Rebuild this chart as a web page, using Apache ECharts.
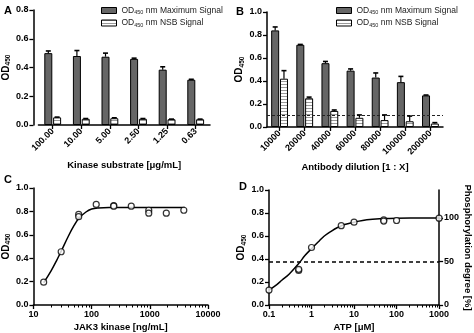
<!DOCTYPE html>
<html>
<head>
<meta charset="utf-8">
<script src="https://cdn.jsdelivr.net/npm/echarts@6/dist/echarts.min.js"></script>
<style>
  html, body { margin: 0; padding: 0; background: #fff; }
  #chart { width: 474px; height: 333px; }
</style>
</head>
<body>
<div id="chart"></div>
<script>
// ---- Panel A: kinase substrate titration ----
const substrateLabels = ['100.00', '10.00', '5.00', '2.50', '1.25', '0.63'];
const substrateMax    = [0.50, 0.48, 0.475, 0.46, 0.385, 0.315];
const substrateMaxErr = [0.015, 0.038, 0.025, 0.005, 0.02, 0.003];
const substrateNsb    = [0.053, 0.043, 0.047, 0.043, 0.04, 0.04];
const substrateNsbErr = [0.002, 0.002, 0.003, 0.002, 0.001, 0.001];

// ---- Panel B: antibody dilution ----
const dilutionLabels = ['10000', '20000', '40000', '60000', '80000', '100000', '200000'];
const dilutionMax    = [0.84, 0.715, 0.555, 0.49, 0.43, 0.39, 0.275];
const dilutionMaxErr = [0.03, 0.003, 0.015, 0.015, 0.04, 0.05, 0.003];
const dilutionNsb    = [0.42, 0.25, 0.14, 0.08, 0.06, 0.05, 0.03];
const dilutionNsbErr = [0.07, 0.01, 0.008, 0.025, 0.045, 0.045, 0.008];
const nsbCutoff = 0.1;

// ---- Panel C: JAK3 kinase titration ----
const kinaseConc = [15, 30, 60, 60, 120, 240, 240, 480, 960, 960, 1920, 3840];
const kinaseOd   = [0.195, 0.455, 0.775, 0.755, 0.86, 0.85, 0.845, 0.845, 0.81, 0.785, 0.785, 0.81];
const kinaseFitConc = [15, 20, 25, 30, 40, 50, 60, 80, 100, 130, 200, 500, 1000, 4000];
const kinaseFitOd   = [0.19, 0.29, 0.38, 0.46, 0.59, 0.68, 0.74, 0.795, 0.82, 0.83, 0.834, 0.834, 0.834, 0.834];
const kinaseTicks      = [10, 100, 1000, 10000];
const kinaseMinorTicks = [20, 30, 40, 50, 60, 70, 80, 90, 200, 300, 400, 500, 600, 700, 800, 900,
                          2000, 3000, 4000, 5000, 6000, 7000, 8000, 9000];

// ---- Panel D: ATP titration ----
const atpConc = [0.1, 0.5, 0.5, 1, 5, 10, 50, 50, 100, 1000];
const atpOd   = [0.13, 0.30, 0.31, 0.50, 0.69, 0.72, 0.74, 0.73, 0.735, 0.755];
const atpFitConc = [0.1, 0.15, 0.2, 0.3, 0.5, 0.7, 1, 1.5, 2, 3, 4, 6, 10, 20, 50, 100, 1000];
const atpFitOd   = [0.13, 0.175, 0.215, 0.27, 0.36, 0.43, 0.49, 0.555, 0.60, 0.645, 0.672, 0.70, 0.72, 0.742, 0.752, 0.755, 0.757];
const atpHalfSignal = 0.378;
const atpTicks      = [0.1, 1, 10, 100, 1000];
const atpMinorTicks = [0.2, 0.3, 0.4, 0.5, 0.6, 0.7, 0.8, 0.9, 2, 3, 4, 5, 6, 7, 8, 9,
                       20, 30, 40, 50, 60, 70, 80, 90, 200, 300, 400, 500, 600, 700, 800, 900];
const phosphoTicks = [0, 50, 100];

// ---- shared styling ----
const FONT = '"Liberation Sans", Arial, sans-serif';
const BAR_W = 8;
const BAR_GAP = 0.1;                       // fraction of bar width
const BAR_OFFSET = (BAR_W * (1 + BAR_GAP)) / 2;
const CAP = 2.5;
const MAX_NAME = 'OD450 nm Maximum Signal';
const NSB_NAME = 'OD450 nm NSB Signal';

// striped fill for the non-specific binding bars
function stripePattern() {
  const c = document.createElement('canvas');
  c.width = 4; c.height = 3;
  const g = c.getContext('2d');
  g.fillStyle = '#ffffff';
  g.fillRect(0, 0, 4, 3);
  g.fillStyle = '#9a9a9a';
  g.fillRect(0, 0, 4, 1);
  return c;
}
const stripes = { image: stripePattern(), repeat: 'repeat' };

const odName = '{a|OD}{s|450}';
const odRich = {
  a: { fontSize: 10, fontWeight: 'bold', fontFamily: FONT, color: '#000' },
  s: { fontSize: 6.5, fontWeight: 'bold', fontFamily: FONT, color: '#000', verticalAlign: 'bottom', padding: [5, 0, 0, 0] }
};

const axisLine = { show: true, lineStyle: { color: '#000', width: 1.5 } };
const axisTick = { show: true, length: 4, lineStyle: { color: '#000', width: 1.3 } };
const tickLabel = { color: '#000', fontWeight: 'bold', fontSize: 9, fontFamily: FONT };
const nameStyle = { color: '#000', fontWeight: 'bold', fontSize: 9.5, fontFamily: FONT };

function valueY(gridIndex, max, extra) {
  return Object.assign({
    type: 'value', gridIndex, min: 0, max, interval: 0.2,
    name: odName, nameLocation: 'middle', nameRotate: 90, nameGap: 18,
    nameTextStyle: { rich: odRich },
    axisLine, axisTick,
    axisLabel: Object.assign({ formatter: v => v.toFixed(1), margin: 5 }, tickLabel),
    splitLine: { show: false }
  }, extra || {});
}

function categoryX(gridIndex, labels, title) {
  return {
    type: 'category', gridIndex, data: labels,
    name: title, nameLocation: 'middle', nameGap: 35, nameTextStyle: nameStyle,
    axisLine, axisTick: Object.assign({ alignWithLabel: true }, axisTick),
    axisLabel: Object.assign({ rotate: 45, interval: 0, margin: 5 }, tickLabel),
    splitLine: { show: false }
  };
}

function logX(gridIndex, min, max, ticks, title) {
  return {
    type: 'log', logBase: 10, gridIndex, min, max,
    name: title, nameLocation: 'middle', nameGap: 17, nameTextStyle: nameStyle,
    axisLine,
    axisTick: Object.assign({ customValues: ticks }, axisTick),
    axisLabel: Object.assign({ customValues: ticks, margin: 5, formatter: v => String(v) }, tickLabel),
    splitLine: { show: false }
  };
}

function minorLogX(gridIndex, min, max, ticks) {
  return {
    type: 'log', logBase: 10, gridIndex, min, max, position: 'bottom',
    axisLine: { show: false },
    axisTick: { show: true, length: 2.5, customValues: ticks, lineStyle: { color: '#000', width: 1 } },
    axisLabel: { show: false },
    splitLine: { show: false }
  };
}

function errorBars(xAxisIndex, yAxisIndex, values, errs, side) {
  return {
    type: 'custom', xAxisIndex, yAxisIndex, z: 5, silent: true,
    data: values.map((v, i) => [i, v, errs[i]]),
    encode: { x: 0, y: 1 },
    renderItem(params, api) {
      const cat = api.value(0), v = api.value(1), e = api.value(2);
      const p0 = api.coord([cat, v]);
      const p1 = api.coord([cat, v + e]);
      const x = p0[0] + side * BAR_OFFSET;
      return {
        type: 'group',
        children: [
          { type: 'line', shape: { x1: x, y1: p0[1], x2: x, y2: p1[1] }, style: { stroke: '#000', lineWidth: 1.2 } },
          { type: 'line', shape: { x1: x - CAP, y1: p1[1], x2: x + CAP, y2: p1[1] }, style: { stroke: '#000', lineWidth: 1.6 } }
        ]
      };
    }
  };
}

function bars(name, xAxisIndex, yAxisIndex, values, fill, extra) {
  return Object.assign({
    type: 'bar', name, xAxisIndex, yAxisIndex, data: values,
    barWidth: BAR_W, barGap: (BAR_GAP * 100) + '%',
    itemStyle: { color: fill, borderColor: '#000', borderWidth: 1 },
    emphasis: { disabled: true }
  }, extra || {});
}

const pointStyle = { color: '#fff', borderColor: '#000', borderWidth: 1.2 };

function legendAt(left, top) {
  return {
    left, top, orient: 'vertical', itemGap: 3, itemWidth: 15, itemHeight: 6,
    icon: 'rect', selectedMode: false,
    data: [MAX_NAME, NSB_NAME],
    itemStyle: { borderColor: '#000', borderWidth: 1 },
    formatter: n => '{a|OD}{s|450}{a|' + n.slice(5) + '}',
    textStyle: {
      rich: {
        a: { fontSize: 8.5, fontFamily: FONT, color: '#222' },
        s: { fontSize: 5.5, fontFamily: FONT, color: '#222', verticalAlign: 'bottom', padding: [4, 0, 0, 0] }
      }
    }
  };
}

function panelLetter(text, left, top) {
  return { type: 'text', left, top, style: { text, fontSize: 11, fontWeight: 'bold', fontFamily: FONT, fill: '#000' } };
}

const chart = echarts.init(document.getElementById('chart'), null, { renderer: 'canvas' });

chart.setOption({
  animation: false,
  backgroundColor: '#fff',
  grid: [
    { left: 38, width: 172, top: 10, height: 115 },   // A
    { left: 267, width: 176, top: 12, height: 115 },  // B
    { left: 32, width: 176, top: 188, height: 117 },  // C
    { left: 269, width: 172, top: 190, height: 115 }  // D
  ],
  legend: [legendAt(96, 1), legendAt(331, 1)],
  xAxis: [
    categoryX(0, substrateLabels, 'Kinase substrate [\u03bcg/mL]'),
    categoryX(1, dilutionLabels, 'Antibody dilution [1 : X]'),
    logX(2, 10, 10000, kinaseTicks, 'JAK3 kinase [ng/mL]'),
    minorLogX(2, 10, 10000, kinaseMinorTicks),
    logX(3, 0.1, 1000, atpTicks, 'ATP [\u03bcM]'),
    minorLogX(3, 0.1, 1000, atpMinorTicks)
  ],
  yAxis: [
    valueY(0, 0.8, { offset: 5, nameGap: 14 }),
    valueY(1, 1.0, { nameGap: 17 }),
    valueY(2, 1.0, { nameGap: 17 }),
    valueY(3, 1.0, { nameGap: 17 }),
    {
      type: 'value', gridIndex: 3, position: 'right', min: 0, max: 100 / 0.757,
      name: 'Phosphorylation degree [%]', nameLocation: 'middle', nameRotate: -90, nameGap: 21,
      nameTextStyle: nameStyle,
      axisLine,
      axisTick: Object.assign({ customValues: phosphoTicks }, axisTick),
      axisLabel: Object.assign({ customValues: phosphoTicks, margin: 5 }, tickLabel),
      splitLine: { show: false }
    }
  ],
  series: [
    // A
    bars(MAX_NAME, 0, 0, substrateMax, '#666666'),
    bars(NSB_NAME, 0, 0, substrateNsb, stripes),
    errorBars(0, 0, substrateMax, substrateMaxErr, -1),
    errorBars(0, 0, substrateNsb, substrateNsbErr, 1),
    // B
    bars(MAX_NAME, 1, 1, dilutionMax, '#666666'),
    bars(NSB_NAME, 1, 1, dilutionNsb, stripes, {
      markLine: {
        silent: true, symbol: 'none', label: { show: false },
        lineStyle: { color: '#222', width: 1, type: [3, 2] },
        data: [{ yAxis: nsbCutoff }]
      }
    }),
    errorBars(1, 1, dilutionMax, dilutionMaxErr, -1),
    errorBars(1, 1, dilutionNsb, dilutionNsbErr, 1),
    // C
    {
      type: 'line', xAxisIndex: 2, yAxisIndex: 2, smooth: 0.4, symbol: 'none',
      lineStyle: { color: '#000', width: 1.5 },
      data: kinaseFitConc.map((x, i) => [x, kinaseFitOd[i]])
    },
    {
      type: 'scatter', xAxisIndex: 2, yAxisIndex: 2, symbol: 'circle', symbolSize: 6, z: 4,
      itemStyle: pointStyle,
      data: kinaseConc.map((x, i) => [x, kinaseOd[i]])
    },
    // D
    {
      type: 'line', xAxisIndex: 4, yAxisIndex: 3, smooth: 0.4, symbol: 'none',
      lineStyle: { color: '#000', width: 1.5 },
      data: atpFitConc.map((x, i) => [x, atpFitOd[i]]),
      markLine: {
        silent: true, symbol: 'none', label: { show: false },
        lineStyle: { color: '#000', width: 1.5, type: [4, 3] },
        data: [{ yAxis: atpHalfSignal }]
      }
    },
    {
      type: 'scatter', xAxisIndex: 4, yAxisIndex: 3, symbol: 'circle', symbolSize: 6, z: 4,
      itemStyle: pointStyle,
      data: atpConc.map((x, i) => [x, atpOd[i]])
    }
  ],
  graphic: [
    panelLetter('A', 4, 5),
    panelLetter('B', 236, 6),
    panelLetter('C', 4, 174),
    panelLetter('D', 239, 181)
  ]
});
</script>
</body>
</html>
